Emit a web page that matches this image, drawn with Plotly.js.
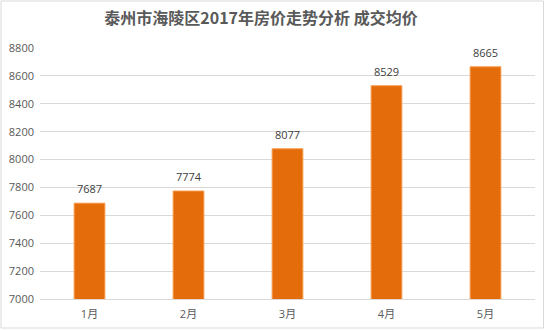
<!DOCTYPE html>
<html>
<head>
<meta charset="utf-8">
<script src="https://cdn.plot.ly/plotly-3.0.1.min.js"></script>
<style>html,body{margin:0;padding:0;background:#fff;}#chart{width:550px;height:330px;}</style>
</head>
<body>
<div id="chart"></div>
<script>
const categories = ['1月', '2月', '3月', '4月', '5月'];
const values = [7687, 7774, 8077, 8529, 8665];
const yTicks = [7000, 7200, 7400, 7600, 7800, 8000, 8200, 8400, 8600, 8800];

const fontFam = '"Open Sans", "Noto Sans CJK SC", sans-serif';

const trace = {
  type: 'bar',
  x: categories,
  y: values,
  marker: {color: '#E46C0A', line: {color: '#F79646', width: 1}},
  hoverinfo: 'none'
};

const annotations = categories.map((c, i) => ({
  x: c, y: values[i], xref: 'x', yref: 'y',
  text: String(values[i]), showarrow: false,
  yanchor: 'bottom', yshift: 5,
  font: {family: fontFam, size: 11, color: '#404040'}
}));

const layout = {
  width: 550, height: 330,
  margin: {l: 40, r: 15, t: 48, b: 31},
  paper_bgcolor: '#ffffff', plot_bgcolor: '#ffffff',
  title: {
    text: '<b>泰州市海陵区2017年房价走势分析 成交均价</b>',
    x: 261/550, xanchor: 'center', y: 0.945, yanchor: 'middle',
    font: {family: '"Noto Sans CJK SC", sans-serif', size: 16, color: '#595959'}
  },
  bargap: 0.69,
  showlegend: false,
  xaxis: {
    type: 'category',
    showgrid: false, zeroline: false,
    showline: true, linecolor: '#D9D9D9', linewidth: 1,
    ticks: '', ticklen: 0, ticklabelstandoff: 5,
    tickfont: {family: fontFam, size: 11, color: '#595959'}
  },
  yaxis: {
    range: [7000, 8800], tickvals: yTicks,
    showgrid: true, gridcolor: '#D9D9D9', gridwidth: 1,
    zeroline: false, showline: false,
    ticks: '', ticklen: 0, ticklabelstandoff: 5,
    tickfont: {family: fontFam, size: 11, color: '#595959'}
  },
  annotations: annotations,
  shapes: [{
    type: 'rect', xref: 'paper', yref: 'paper',
    x0: -39/495, x1: 543.5/495 - 40/495, y0: -29/251, y1: 1 + 47/251,
    line: {color: '#D9D9D9', width: 1}, fillcolor: 'rgba(0,0,0,0)', layer: 'below'
  }]
};

Plotly.newPlot('chart', [trace], layout, {staticPlot: true, displayModeBar: false});
</script>
</body>
</html>
